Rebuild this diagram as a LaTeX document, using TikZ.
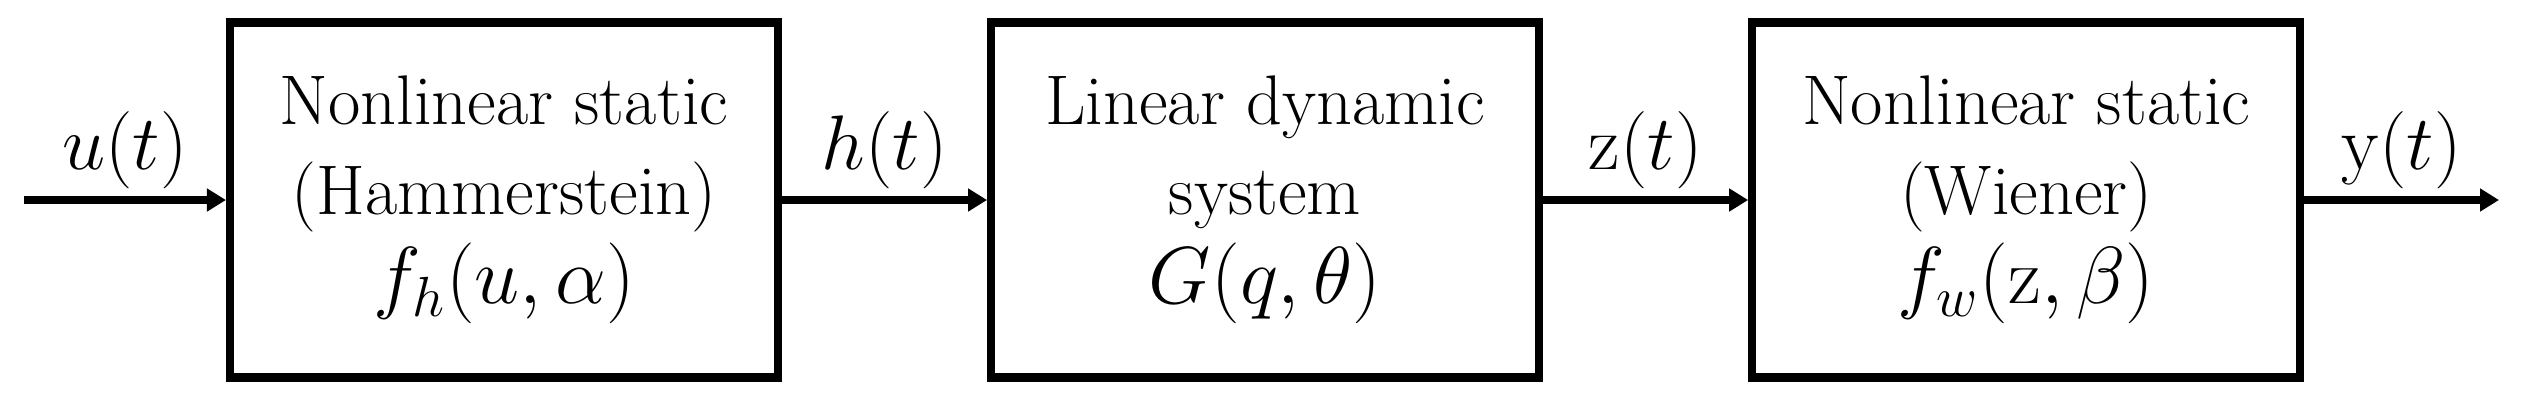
\RequirePackage{fix-cm}
\documentclass[tikz,border=0pt]{standalone}
\usepackage{tikz}
\usetikzlibrary{positioning,arrows.meta}
\newcommand{\formula}[1]{{\fontsize{23}{25}\selectfont $#1$}}

\begin{document}
\begin{tikzpicture}[
        bloque/.style={draw, line width=2.3pt, minimum width=5.48cm, minimum height=3.55cm, align=center, font=\fontsize{20}{25.5}\selectfont},
        senal/.style={line width=2.3pt, -{Triangle[length=1.9mm,width=2.2mm]}},
        etiqueta/.style={above, inner sep=2pt, font=\fontsize{22}{25}\selectfont}]
        \useasboundingbox (0,0) rectangle (25.28,4);
        % Bloque no lineal de entrada
        \node[bloque] (H) at (5.04,2) {Nonlinear static\\(Hammerstein)\\\formula{f_h(u,\alpha)}};
        % Bloque lineal
        \node[bloque, right=2.05cm of H] (G) {Linear dynamic\\system\\\formula{G(q,\theta)}};
        % Bloque no lineal de salida
        \node[bloque, right=2.05cm of G] (W) {Nonlinear static\\(Wiener)\\\formula{f_w(\mathrm{z},\beta)}};
        % Extremos libres de entrada y salida
        \coordinate (ent) at (0.24,2);
        \coordinate (sal) at (24.99,2);
        % Señales entre bloques
        \draw[senal] (ent) -- node[etiqueta] (u) {$u(t)$} (H.west);
        \draw[senal] (H.east) -- node[etiqueta] (h) {$h(t)$} (G.west);
        \draw[senal] (G.east) -- node[etiqueta] (z) {$\mathrm{z}(t)$} (W.west);
        \draw[senal] (W.east) -- node[etiqueta] (y) {$\mathrm{y}(t)$} (sal);
    \end{tikzpicture}
\end{document}
